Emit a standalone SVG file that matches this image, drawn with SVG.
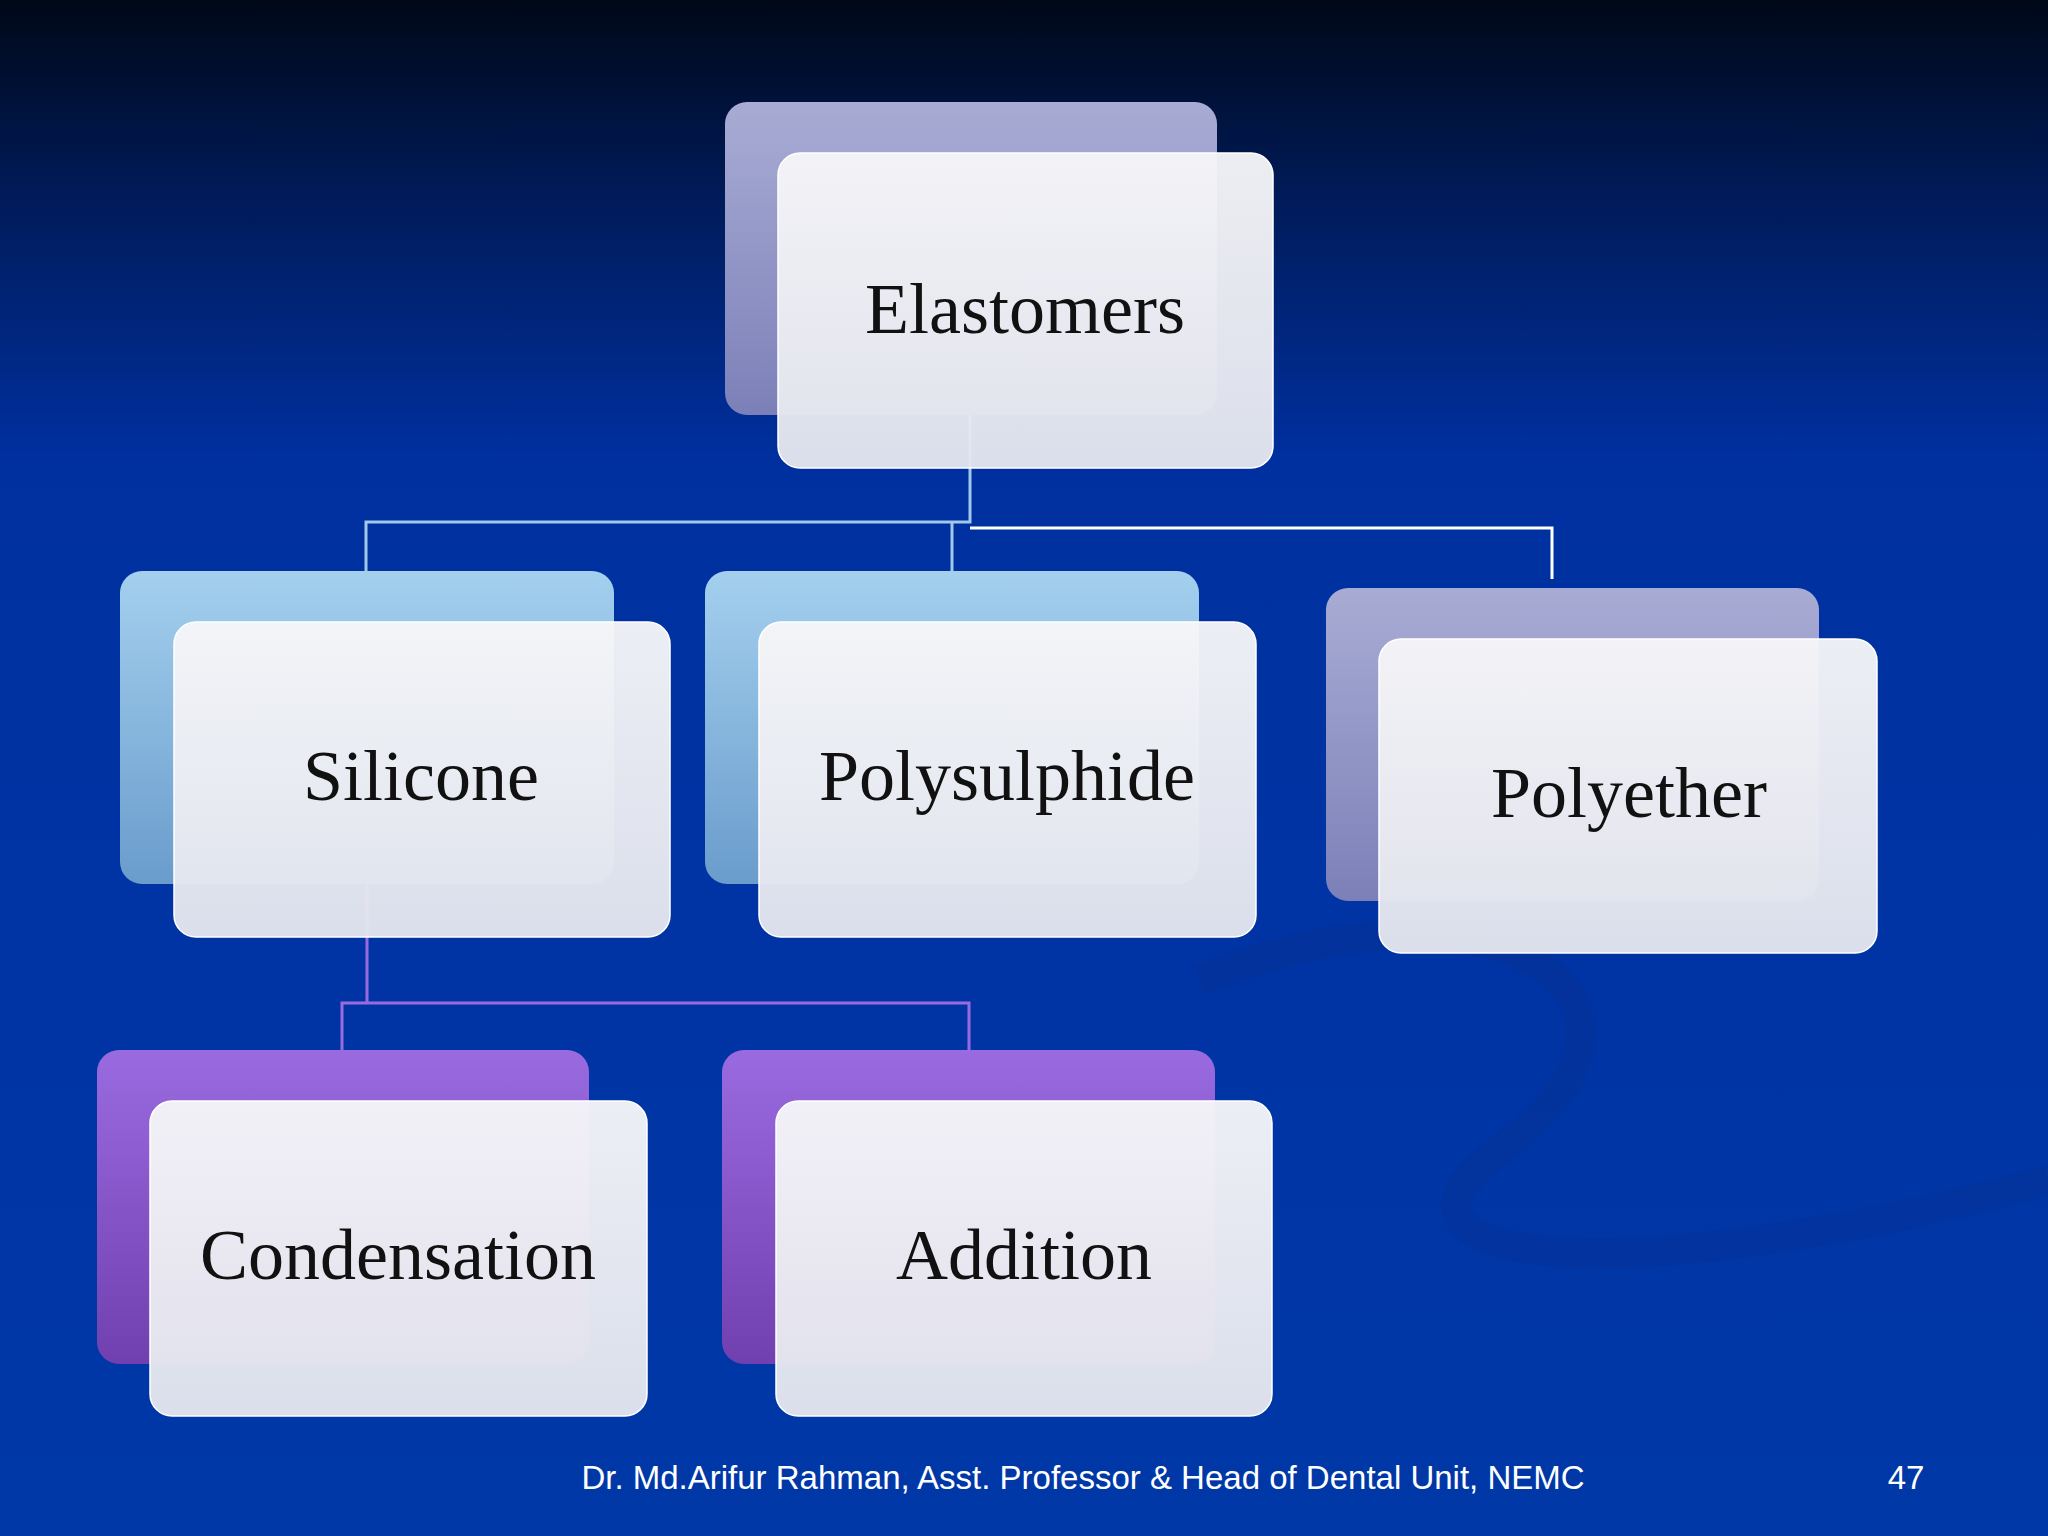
<svg xmlns="http://www.w3.org/2000/svg" width="2048" height="1536" viewBox="0 0 2048 1536">
<defs>
<linearGradient id="bg" x1="0" y1="0" x2="0" y2="1">
<stop offset="0" stop-color="#000818"/>
<stop offset="0.12" stop-color="#001a55"/>
<stop offset="0.3" stop-color="#0030a0"/>
<stop offset="1" stop-color="#0038a8"/>
</linearGradient>
<linearGradient id="gGrey" x1="0" y1="0" x2="0" y2="1"><stop offset="0" stop-color="#a8acd4"/><stop offset="1" stop-color="#7c80b8"/></linearGradient>
<linearGradient id="gBlue" x1="0" y1="0" x2="0" y2="1"><stop offset="0" stop-color="#a4d0ee"/><stop offset="1" stop-color="#6a9ccc"/></linearGradient>
<linearGradient id="gPurp" x1="0" y1="0" x2="0" y2="1"><stop offset="0" stop-color="#9a6ae0"/><stop offset="1" stop-color="#7040b0"/></linearGradient>
<linearGradient id="gFront" x1="0" y1="0" x2="0" y2="1"><stop offset="0" stop-color="#f6f6f8"/><stop offset="1" stop-color="#e4e6ee"/></linearGradient>
</defs>
<style>
.front{fill:url(#gFront);fill-opacity:0.96;stroke:#ffffff;stroke-width:1.5}
.lbl{font-family:"Liberation Serif",serif;font-size:72px;fill:#111;text-anchor:middle}
.ft{font-family:"Liberation Sans",sans-serif;font-size:33px;fill:#fff}
.c{fill:none;stroke-width:3}
</style>
<rect width="2048" height="1536" fill="url(#bg)"/>
<path d="M1200 980 C1500 860 1700 1000 1500 1150 C1350 1260 1600 1300 2048 1180" fill="none" stroke="#0a2f8a" stroke-width="30" opacity="0.3"/>
<g id="connectors">
<path class="c" stroke="#a0c8e8" d="M970 415 V522 H366 V571 M952 522 V571"/>
<path class="c" stroke="#ffffff" stroke-width="2" d="M970 528 H1552 V579"/>
<path class="c" stroke="#9a6ae0" d="M367 884 V1003 M342 1050 V1003 H969 V1050"/>
</g>
<g id="elastomers"><rect x="725" y="102" width="492" height="313" rx="22" fill="url(#gGrey)"/><rect class="front" x="778" y="153" width="495" height="315" rx="22"/><text class="lbl" x="1025" y="333">Elastomers</text></g>
<g id="silicone"><rect x="120" y="571" width="494" height="313" rx="22" fill="url(#gBlue)"/><rect class="front" x="174" y="622" width="496" height="315" rx="22"/><text class="lbl" x="421" y="800">Silicone</text></g>
<g id="polysulphide"><rect x="705" y="571" width="494" height="313" rx="22" fill="url(#gBlue)"/><rect class="front" x="759" y="622" width="497" height="315" rx="22"/><text class="lbl" x="1007" y="800">Polysulphide</text></g>
<g id="polyether"><rect x="1326" y="588" width="493" height="313" rx="22" fill="url(#gGrey)"/><rect class="front" x="1379" y="639" width="498" height="314" rx="22"/><text class="lbl" x="1629" y="817">Polyether</text></g>
<g id="condensation"><rect x="97" y="1050" width="492" height="314" rx="22" fill="url(#gPurp)"/><rect class="front" x="150" y="1101" width="497" height="315" rx="22"/><text class="lbl" x="398" y="1279">Condensation</text></g>
<g id="addition"><rect x="722" y="1050" width="493" height="314" rx="22" fill="url(#gPurp)"/><rect class="front" x="776" y="1101" width="496" height="315" rx="22"/><text class="lbl" x="1024" y="1279">Addition</text></g>
<text class="ft" x="1083" y="1489" text-anchor="middle">Dr. Md.Arifur Rahman, Asst. Professor &amp; Head of Dental Unit, NEMC</text>
<text class="ft" x="1906" y="1489" text-anchor="middle">47</text>
</svg>
